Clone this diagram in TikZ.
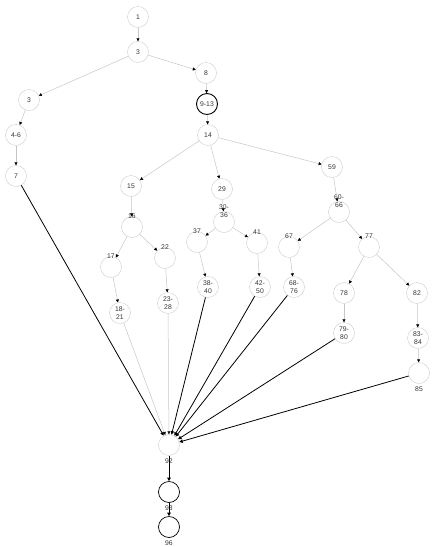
\documentclass[tikz,border=0pt]{standalone}
\usepackage{fontspec}
\setmainfont{Liberation Sans}
\usepackage{xcolor}
\usetikzlibrary{arrows.meta}

\begin{document}
\begin{tikzpicture}[
    x=1pt, y=-1pt,
    blk/.style={draw=gray!40, circle, minimum size=21pt, inner sep=0pt, align=center, font=\fontsize{6.8}{8.3}\selectfont, text=black!80},
    every label/.style={font=\fontsize{6.8}{8.3}\selectfont, text=black!80, inner sep=0pt, align=center},
    toplabel/.style={label={[anchor=center, label distance=0pt]90:#1}},
    botlabel/.style={label={[anchor=center, label distance=5.5pt]-90:#1}},
    flow/.style={-{Triangle[length=3pt, width=3pt, color=black]}, draw=gray!45, line width=0.5pt},
    exitflow/.style={-{Triangle[length=3.5pt, width=3.5pt]}, draw=black, line width=0.8pt}
]
    \useasboundingbox (0,0) rectangle (434,547);

    % blocks
    \node[blk] (n1) at (138,17) {1};
    \node[blk] (n3) at (138,52) {3};
    \node[blk] (n8) at (206,73) {8};
    \node[blk] (n3b) at (29,100) {3};
    \node[blk, draw=black, line width=0.9pt] (n9) at (207,104) {9-13};
    \node[blk] (n4) at (16,135) {4-6};
    \node[blk] (n14) at (208,135) {14};
    \node[blk] (n7) at (16,176) {7};
    \node[blk] (n15) at (131,186) {15};
    \node[blk] (n29) at (222,189) {29};
    \node[blk] (n59) at (332,167) {59};
    \node[blk, toplabel={60-\\66}] (n60) at (339,212) {};
    \node[blk, toplabel={30-\\36}] (n30) at (224,222) {};
    \node[blk, toplabel=16] (n16) at (132,227) {};
    \node[blk, toplabel=37] (n37) at (197,242) {};
    \node[blk, toplabel=41] (n41) at (257,243) {};
    \node[blk, toplabel=67] (n67) at (289,247) {};
    \node[blk, toplabel=77] (n77) at (369,247) {};
    \node[blk, toplabel=17] (n17) at (111,267) {};
    \node[blk, toplabel=22] (n22) at (165,258) {};
    \node[blk] (n38) at (208,287) {38-\\40};
    \node[blk] (n42) at (260,287) {42-\\50};
    \node[blk] (n68) at (294,287) {68-\\76};
    \node[blk] (n78) at (344,293) {78};
    \node[blk] (n82) at (417,293) {82};
    \node[blk] (n23) at (168,303) {23-\\28};
    \node[blk] (n18) at (120,313) {18-\\21};
    \node[blk] (n79) at (344,333) {79-\\80};
    \node[blk] (n83) at (418,338) {83-\\84};
    \node[blk, botlabel=85] (n85) at (419,373) {};
    \node[blk, botlabel=92] (n92) at (169,445) {};
    \node[blk, draw=black, line width=0.7pt, botlabel=93] (n93) at (169,492) {};
    \node[blk, draw=black, line width=0.7pt, botlabel=96] (n96) at (169,527) {};

    % flow
    \draw[flow] (n1) -- (n3);
    \draw[flow] (n3) -- (n3b);
    \draw[flow] (n3) -- (n8);
    \draw[flow] (n8) -- (n9);
    \draw[flow] (n3b) -- (n4);
    \draw[flow] (n4) -- (n7);
    \draw[flow] (n9) -- (n14);
    \draw[flow] (n14) -- (n15);
    \draw[flow] (n14) -- (n29);
    \draw[flow] (n14) -- (n59);
    \draw[flow] (n15) -- (n16);
    \draw[flow] (n16) -- (n17);
    \draw[flow] (n16) -- (n22);
    \draw[flow] (n17) -- (n18);
    \draw[flow] (n22) -- (n23);
    \draw[flow] (n29) -- (n30);
    \draw[flow] (n30) -- (n37);
    \draw[flow] (n30) -- (n41);
    \draw[flow] (n37) -- (n38);
    \draw[flow] (n41) -- (n42);
    \draw[flow] (n59) -- (n60);
    \draw[flow] (n60) -- (n67);
    \draw[flow] (n60) -- (n77);
    \draw[flow] (n67) -- (n68);
    \draw[flow] (n77) -- (n78);
    \draw[flow] (n77) -- (n82);
    \draw[flow] (n78) -- (n79);
    \draw[flow] (n82) -- (n83);
    \draw[flow] (n83) -- (n85);

    % exits
    \draw[exitflow] (n7) -- (n92);
    \draw[flow] (n18) -- (n92);
    \draw[flow] (n23) -- (n92);
    \draw[exitflow] (n38) -- (n92);
    \draw[exitflow] (n42) -- (n92);
    \draw[exitflow] (n68) -- (n92);
    \draw[exitflow] (n79) -- (n92);
    \draw[exitflow] (n85) -- (n92);
    \draw[exitflow] (n92) -- (n93);
    \draw[exitflow] (n93) -- (n96);
\end{tikzpicture}
\end{document}
